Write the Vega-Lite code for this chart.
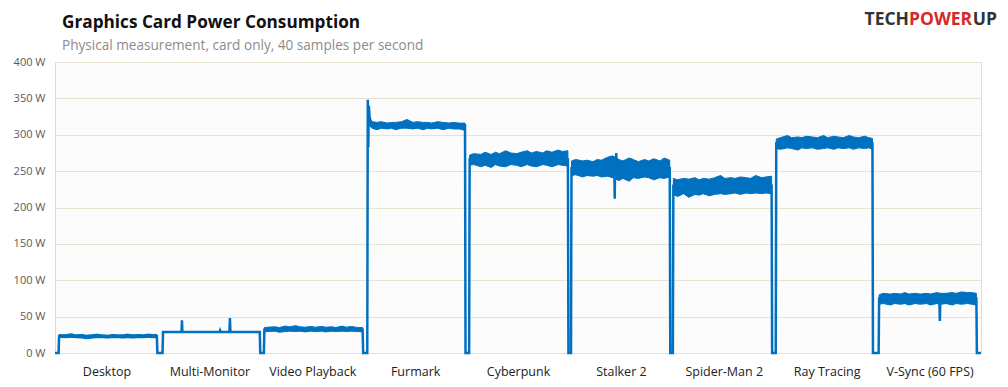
{
  "$schema": "https://vega.github.io/schema/vega-lite/v6.json",
  "autosize": {"type": "none"},
  "width": 926,
  "height": 291,
  "padding": {"left": 55, "top": 62, "right": 27, "bottom": 34},
  "background": "#ffffff",
  "title": {
    "text": "Graphics Card Power Consumption",
    "subtitle": "Physical measurement, card only, 40 samples per second",
    "anchor": "start",
    "frame": "group",
    "dx": 7,
    "offset": -42,
    "font": "Open Sans",
    "fontSize": 17.2,
    "fontWeight": "bold",
    "color": "#111111",
    "subtitleFont": "Open Sans",
    "subtitleFontSize": 13.6,
    "subtitleColor": "#8c8c8c",
    "subtitlePadding": 8
  },
  "config": {
    "view": {"stroke": "#e3ddcc", "fill": "#fcfcfc"},
    "font": "Open Sans",
    "axisY": {"tickCount": 8, "labelExpr": "datum.value + ' W'",
      "title": null, "ticks": false, "domain": false, "grid": true, "gridColor": "#e8e2d2", "gridWidth": 1,
      "labelPadding": 10, "labelFontSize": 11, "labelColor": "#595959", "labelFont": "Open Sans", "labelOverlap": false, "labelFlush": false},
    "axisX": {"tickCount": 18,
      "labelExpr": "datum.value % 1 == 0 ? '' : ['Desktop','Multi-Monitor','Video Playback','Furmark','Cyberpunk','Stalker 2','Spider-Man 2','Ray Tracing','V-Sync (60 FPS)'][floor(datum.value)]",
      "title": null, "ticks": false, "domain": false, "grid": false, "labelPadding": 12,
      "labelFontSize": 12.5, "labelColor": "#222222", "labelFont": "Open Sans", "labelOverlap": false, "labelFlush": false}
  },
  "datasets": {
    "trace": [
      {"t": 0, "w": 0}, {"t": 0.035, "w": 0}, {"t": 0.04, "w": 23}, {"t": 0.5, "w": 22.5}, {"t": 0.99, "w": 23}, {"t": 0.995, "w": 0},
      {"t": 1.045, "w": 0}, {"t": 1.05, "w": 29}, {"t": 1.23, "w": 29}, {"t": 1.234, "w": 45}, {"t": 1.238, "w": 29}, {"t": 1.6, "w": 29}, {"t": 1.605, "w": 31}, {"t": 1.61, "w": 29}, {"t": 1.695, "w": 29}, {"t": 1.70, "w": 48}, {"t": 1.705, "w": 29}, {"t": 1.99, "w": 29}, {"t": 1.995, "w": 0},
      {"t": 2.03, "w": 0}, {"t": 2.035, "w": 32}, {"t": 2.99, "w": 32}, {"t": 2.995, "w": 0},
      {"t": 3.035, "w": 0}, {"t": 3.04, "w": 348}, {"t": 3.045, "w": 283}, {"t": 3.05, "w": 340}, {"t": 3.06, "w": 318}, {"t": 3.1, "w": 313}, {"t": 3.985, "w": 313}, {"t": 3.99, "w": 0},
      {"t": 4.025, "w": 0}, {"t": 4.03, "w": 266}, {"t": 4.985, "w": 266}, {"t": 4.99, "w": 0},
      {"t": 5.015, "w": 0}, {"t": 5.02, "w": 254}, {"t": 5.436, "w": 254}, {"t": 5.44, "w": 212}, {"t": 5.444, "w": 254}, {"t": 5.45, "w": 256}, {"t": 5.455, "w": 275}, {"t": 5.46, "w": 254}, {"t": 5.975, "w": 254}, {"t": 5.98, "w": 0},
      {"t": 6.005, "w": 0}, {"t": 6.01, "w": 230}, {"t": 6.965, "w": 230}, {"t": 6.97, "w": 0},
      {"t": 7.005, "w": 0}, {"t": 7.01, "w": 288}, {"t": 7.945, "w": 288}, {"t": 7.95, "w": 0},
      {"t": 8.005, "w": 0}, {"t": 8.01, "w": 75}, {"t": 8.595, "w": 75}, {"t": 8.6, "w": 44}, {"t": 8.605, "w": 75}, {"t": 8.955, "w": 75}, {"t": 8.96, "w": 0}, {"t": 9, "w": 0}
    ],
    "band": [
      {"seg": "Desktop", "t": 0.04, "lo": 21.5, "hi": 25.5}, {"seg": "Desktop", "t": 0.09, "lo": 21, "hi": 25}, {"seg": "Desktop", "t": 0.16, "lo": 21.5, "hi": 26.5}, {"seg": "Desktop", "t": 0.2, "lo": 21, "hi": 25}, {"seg": "Desktop", "t": 0.27, "lo": 20.5, "hi": 25.5}, {"seg": "Desktop", "t": 0.3, "lo": 19.5, "hi": 24.5}, {"seg": "Desktop", "t": 0.36, "lo": 20.5, "hi": 25}, {"seg": "Desktop", "t": 0.41, "lo": 21, "hi": 26}, {"seg": "Desktop", "t": 0.45, "lo": 21, "hi": 25}, {"seg": "Desktop", "t": 0.52, "lo": 20.5, "hi": 24.5}, {"seg": "Desktop", "t": 0.55, "lo": 21, "hi": 25.5}, {"seg": "Desktop", "t": 0.61, "lo": 21, "hi": 25}, {"seg": "Desktop", "t": 0.66, "lo": 20.5, "hi": 25}, {"seg": "Desktop", "t": 0.7, "lo": 21, "hi": 26}, {"seg": "Desktop", "t": 0.76, "lo": 20.5, "hi": 25}, {"seg": "Desktop", "t": 0.8, "lo": 21, "hi": 25.5}, {"seg": "Desktop", "t": 0.86, "lo": 21, "hi": 25}, {"seg": "Desktop", "t": 0.9, "lo": 21.5, "hi": 26}, {"seg": "Desktop", "t": 0.95, "lo": 21, "hi": 25.5}, {"seg": "Desktop", "t": 0.99, "lo": 21, "hi": 25.5},
      {"seg": "Video", "t": 2.035, "lo": 29, "hi": 35}, {"seg": "Video", "t": 2.07, "lo": 29.5, "hi": 35.5}, {"seg": "Video", "t": 2.14, "lo": 30, "hi": 36}, {"seg": "Video", "t": 2.18, "lo": 28.5, "hi": 35}, {"seg": "Video", "t": 2.24, "lo": 29.5, "hi": 37}, {"seg": "Video", "t": 2.28, "lo": 30, "hi": 36}, {"seg": "Video", "t": 2.34, "lo": 29.5, "hi": 37.5}, {"seg": "Video", "t": 2.38, "lo": 30, "hi": 36}, {"seg": "Video", "t": 2.43, "lo": 29, "hi": 35.5}, {"seg": "Video", "t": 2.49, "lo": 30, "hi": 36.5}, {"seg": "Video", "t": 2.53, "lo": 29.5, "hi": 35.5}, {"seg": "Video", "t": 2.59, "lo": 30, "hi": 36.5}, {"seg": "Video", "t": 2.63, "lo": 29, "hi": 35.5}, {"seg": "Video", "t": 2.69, "lo": 30, "hi": 36}, {"seg": "Video", "t": 2.73, "lo": 29.5, "hi": 35}, {"seg": "Video", "t": 2.79, "lo": 30, "hi": 37}, {"seg": "Video", "t": 2.83, "lo": 29.5, "hi": 35.5}, {"seg": "Video", "t": 2.88, "lo": 30, "hi": 36.5}, {"seg": "Video", "t": 2.94, "lo": 29.5, "hi": 35}, {"seg": "Video", "t": 2.99, "lo": 29, "hi": 35},
      {"seg": "Furmark", "t": 3.06, "lo": 312, "hi": 325}, {"seg": "Furmark", "t": 3.08, "lo": 309, "hi": 318}, {"seg": "Furmark", "t": 3.13, "lo": 307, "hi": 317}, {"seg": "Furmark", "t": 3.17, "lo": 309, "hi": 318}, {"seg": "Furmark", "t": 3.23, "lo": 308, "hi": 316}, {"seg": "Furmark", "t": 3.27, "lo": 309, "hi": 317}, {"seg": "Furmark", "t": 3.31, "lo": 307, "hi": 317}, {"seg": "Furmark", "t": 3.37, "lo": 309, "hi": 318}, {"seg": "Furmark", "t": 3.42, "lo": 309, "hi": 321}, {"seg": "Furmark", "t": 3.48, "lo": 308, "hi": 317}, {"seg": "Furmark", "t": 3.52, "lo": 309, "hi": 318}, {"seg": "Furmark", "t": 3.58, "lo": 307, "hi": 317}, {"seg": "Furmark", "t": 3.62, "lo": 309, "hi": 317}, {"seg": "Furmark", "t": 3.66, "lo": 308, "hi": 316}, {"seg": "Furmark", "t": 3.72, "lo": 309, "hi": 318}, {"seg": "Furmark", "t": 3.77, "lo": 307, "hi": 317}, {"seg": "Furmark", "t": 3.83, "lo": 309, "hi": 316}, {"seg": "Furmark", "t": 3.87, "lo": 308, "hi": 317}, {"seg": "Furmark", "t": 3.93, "lo": 308, "hi": 316}, {"seg": "Furmark", "t": 3.985, "lo": 306, "hi": 316},
      {"seg": "Cyberpunk", "t": 4.03, "lo": 258, "hi": 272}, {"seg": "Cyberpunk", "t": 4.07, "lo": 259, "hi": 274}, {"seg": "Cyberpunk", "t": 4.14, "lo": 256, "hi": 273}, {"seg": "Cyberpunk", "t": 4.18, "lo": 258, "hi": 276}, {"seg": "Cyberpunk", "t": 4.24, "lo": 255, "hi": 273}, {"seg": "Cyberpunk", "t": 4.28, "lo": 259, "hi": 276}, {"seg": "Cyberpunk", "t": 4.32, "lo": 257, "hi": 274}, {"seg": "Cyberpunk", "t": 4.38, "lo": 256, "hi": 278}, {"seg": "Cyberpunk", "t": 4.43, "lo": 259, "hi": 275}, {"seg": "Cyberpunk", "t": 4.49, "lo": 258, "hi": 274}, {"seg": "Cyberpunk", "t": 4.53, "lo": 256, "hi": 276}, {"seg": "Cyberpunk", "t": 4.59, "lo": 259, "hi": 278}, {"seg": "Cyberpunk", "t": 4.63, "lo": 257, "hi": 275}, {"seg": "Cyberpunk", "t": 4.68, "lo": 256, "hi": 277}, {"seg": "Cyberpunk", "t": 4.74, "lo": 259, "hi": 275}, {"seg": "Cyberpunk", "t": 4.78, "lo": 258, "hi": 278}, {"seg": "Cyberpunk", "t": 4.83, "lo": 256, "hi": 276}, {"seg": "Cyberpunk", "t": 4.89, "lo": 259, "hi": 279}, {"seg": "Cyberpunk", "t": 4.93, "lo": 258, "hi": 277}, {"seg": "Cyberpunk", "t": 4.985, "lo": 257, "hi": 278},
      {"seg": "Stalker", "t": 5.02, "lo": 244, "hi": 264}, {"seg": "Stalker", "t": 5.06, "lo": 245, "hi": 266}, {"seg": "Stalker", "t": 5.13, "lo": 242, "hi": 264}, {"seg": "Stalker", "t": 5.17, "lo": 244, "hi": 265}, {"seg": "Stalker", "t": 5.23, "lo": 243, "hi": 263}, {"seg": "Stalker", "t": 5.27, "lo": 244, "hi": 266}, {"seg": "Stalker", "t": 5.31, "lo": 242, "hi": 265}, {"seg": "Stalker", "t": 5.37, "lo": 243, "hi": 269}, {"seg": "Stalker", "t": 5.42, "lo": 241, "hi": 271}, {"seg": "Stalker", "t": 5.48, "lo": 237, "hi": 266}, {"seg": "Stalker", "t": 5.52, "lo": 240, "hi": 264}, {"seg": "Stalker", "t": 5.58, "lo": 236, "hi": 268}, {"seg": "Stalker", "t": 5.62, "lo": 241, "hi": 266}, {"seg": "Stalker", "t": 5.67, "lo": 240, "hi": 263}, {"seg": "Stalker", "t": 5.73, "lo": 242, "hi": 266}, {"seg": "Stalker", "t": 5.77, "lo": 241, "hi": 264}, {"seg": "Stalker", "t": 5.82, "lo": 238, "hi": 267}, {"seg": "Stalker", "t": 5.88, "lo": 241, "hi": 264}, {"seg": "Stalker", "t": 5.92, "lo": 240, "hi": 268}, {"seg": "Stalker", "t": 5.975, "lo": 242, "hi": 265},
      {"seg": "Spider", "t": 6.01, "lo": 218, "hi": 240}, {"seg": "Spider", "t": 6.05, "lo": 215, "hi": 238}, {"seg": "Spider", "t": 6.11, "lo": 219, "hi": 240}, {"seg": "Spider", "t": 6.16, "lo": 214, "hi": 239}, {"seg": "Spider", "t": 6.22, "lo": 218, "hi": 241}, {"seg": "Spider", "t": 6.26, "lo": 217, "hi": 238}, {"seg": "Spider", "t": 6.3, "lo": 219, "hi": 240}, {"seg": "Spider", "t": 6.36, "lo": 216, "hi": 239}, {"seg": "Spider", "t": 6.41, "lo": 218, "hi": 241}, {"seg": "Spider", "t": 6.47, "lo": 219, "hi": 244}, {"seg": "Spider", "t": 6.51, "lo": 218, "hi": 240}, {"seg": "Spider", "t": 6.57, "lo": 219, "hi": 241}, {"seg": "Spider", "t": 6.61, "lo": 220, "hi": 240}, {"seg": "Spider", "t": 6.66, "lo": 218, "hi": 242}, {"seg": "Spider", "t": 6.72, "lo": 220, "hi": 241}, {"seg": "Spider", "t": 6.76, "lo": 219, "hi": 240}, {"seg": "Spider", "t": 6.81, "lo": 220, "hi": 244}, {"seg": "Spider", "t": 6.87, "lo": 219, "hi": 241}, {"seg": "Spider", "t": 6.91, "lo": 220, "hi": 242}, {"seg": "Spider", "t": 6.965, "lo": 219, "hi": 243},
      {"seg": "RT", "t": 7.01, "lo": 281, "hi": 294}, {"seg": "RT", "t": 7.05, "lo": 280, "hi": 296}, {"seg": "RT", "t": 7.12, "lo": 282, "hi": 299}, {"seg": "RT", "t": 7.16, "lo": 281, "hi": 296}, {"seg": "RT", "t": 7.22, "lo": 279, "hi": 297}, {"seg": "RT", "t": 7.26, "lo": 282, "hi": 296}, {"seg": "RT", "t": 7.3, "lo": 281, "hi": 298}, {"seg": "RT", "t": 7.36, "lo": 282, "hi": 297}, {"seg": "RT", "t": 7.41, "lo": 280, "hi": 296}, {"seg": "RT", "t": 7.47, "lo": 281, "hi": 299}, {"seg": "RT", "t": 7.51, "lo": 282, "hi": 296}, {"seg": "RT", "t": 7.57, "lo": 280, "hi": 298}, {"seg": "RT", "t": 7.61, "lo": 282, "hi": 297}, {"seg": "RT", "t": 7.66, "lo": 281, "hi": 296}, {"seg": "RT", "t": 7.72, "lo": 282, "hi": 299}, {"seg": "RT", "t": 7.76, "lo": 280, "hi": 297}, {"seg": "RT", "t": 7.81, "lo": 282, "hi": 296}, {"seg": "RT", "t": 7.87, "lo": 281, "hi": 298}, {"seg": "RT", "t": 7.91, "lo": 282, "hi": 296}, {"seg": "RT", "t": 7.945, "lo": 280, "hi": 295},
      {"seg": "VSync", "t": 8.01, "lo": 67, "hi": 80}, {"seg": "VSync", "t": 8.05, "lo": 68, "hi": 82}, {"seg": "VSync", "t": 8.12, "lo": 66, "hi": 81}, {"seg": "VSync", "t": 8.16, "lo": 68, "hi": 82}, {"seg": "VSync", "t": 8.22, "lo": 67, "hi": 81}, {"seg": "VSync", "t": 8.26, "lo": 68, "hi": 83}, {"seg": "VSync", "t": 8.3, "lo": 66, "hi": 81}, {"seg": "VSync", "t": 8.36, "lo": 68, "hi": 82}, {"seg": "VSync", "t": 8.41, "lo": 67, "hi": 81}, {"seg": "VSync", "t": 8.47, "lo": 68, "hi": 82}, {"seg": "VSync", "t": 8.51, "lo": 66, "hi": 81}, {"seg": "VSync", "t": 8.57, "lo": 68, "hi": 83}, {"seg": "VSync", "t": 8.61, "lo": 67, "hi": 82}, {"seg": "VSync", "t": 8.66, "lo": 68, "hi": 82}, {"seg": "VSync", "t": 8.72, "lo": 66, "hi": 83}, {"seg": "VSync", "t": 8.76, "lo": 68, "hi": 82}, {"seg": "VSync", "t": 8.81, "lo": 67, "hi": 84}, {"seg": "VSync", "t": 8.87, "lo": 68, "hi": 83}, {"seg": "VSync", "t": 8.91, "lo": 67, "hi": 83}, {"seg": "VSync", "t": 8.955, "lo": 66, "hi": 82}
    ]
  },
  "layer": [
    {
      "data": {"name": "band"},
      "mark": {"type": "area", "color": "#0070c0", "opacity": 1, "stroke": "#0070c0", "strokeWidth": 1},
      "encoding": {
        "x": {"field": "t", "type": "quantitative", "scale": {"domain": [0, 9], "nice": false, "zero": false}},
        "y": {"field": "lo", "type": "quantitative", "scale": {"domain": [0, 400], "nice": false}},
        "y2": {"field": "hi"},
        "detail": {"field": "seg"}
      }
    },
    {
      "data": {"name": "trace"},
      "mark": {"type": "line", "color": "#0070c0", "strokeWidth": 2.5, "strokeJoin": "miter"},
      "encoding": {
        "x": {"field": "t", "type": "quantitative"},
        "y": {"field": "w", "type": "quantitative"}
      }
    },
    {
      "data": {"values": [{"part": "TECH"}]},
      "mark": {"type": "text", "font": "Open Sans", "fontWeight": "bold", "fontSize": 17.5, "baseline": "middle", "align": "right", "color": "#333333", "clip": false},
      "encoding": {
        "x": {"datum": 8.30, "type": "quantitative"},
        "y": {"datum": 458, "type": "quantitative"},
        "text": {"field": "part"}
      }
    },
    {
      "data": {"values": [{"part": "POWER"}]},
      "mark": {"type": "text", "font": "Open Sans", "fontWeight": "bold", "fontSize": 17.5, "baseline": "middle", "align": "left", "color": "#d32a2a", "clip": false},
      "encoding": {
        "x": {"datum": 8.30, "type": "quantitative"},
        "y": {"datum": 458, "type": "quantitative"},
        "text": {"field": "part"}
      }
    },
    {
      "data": {"values": [{"part": "UP"}]},
      "mark": {"type": "text", "font": "Open Sans", "fontWeight": "bold", "fontSize": 17.5, "baseline": "middle", "align": "left", "color": "#333333", "clip": false},
      "encoding": {
        "x": {"datum": 8.921, "type": "quantitative"},
        "y": {"datum": 458, "type": "quantitative"},
        "text": {"field": "part"}
      }
    }
  ]
}
